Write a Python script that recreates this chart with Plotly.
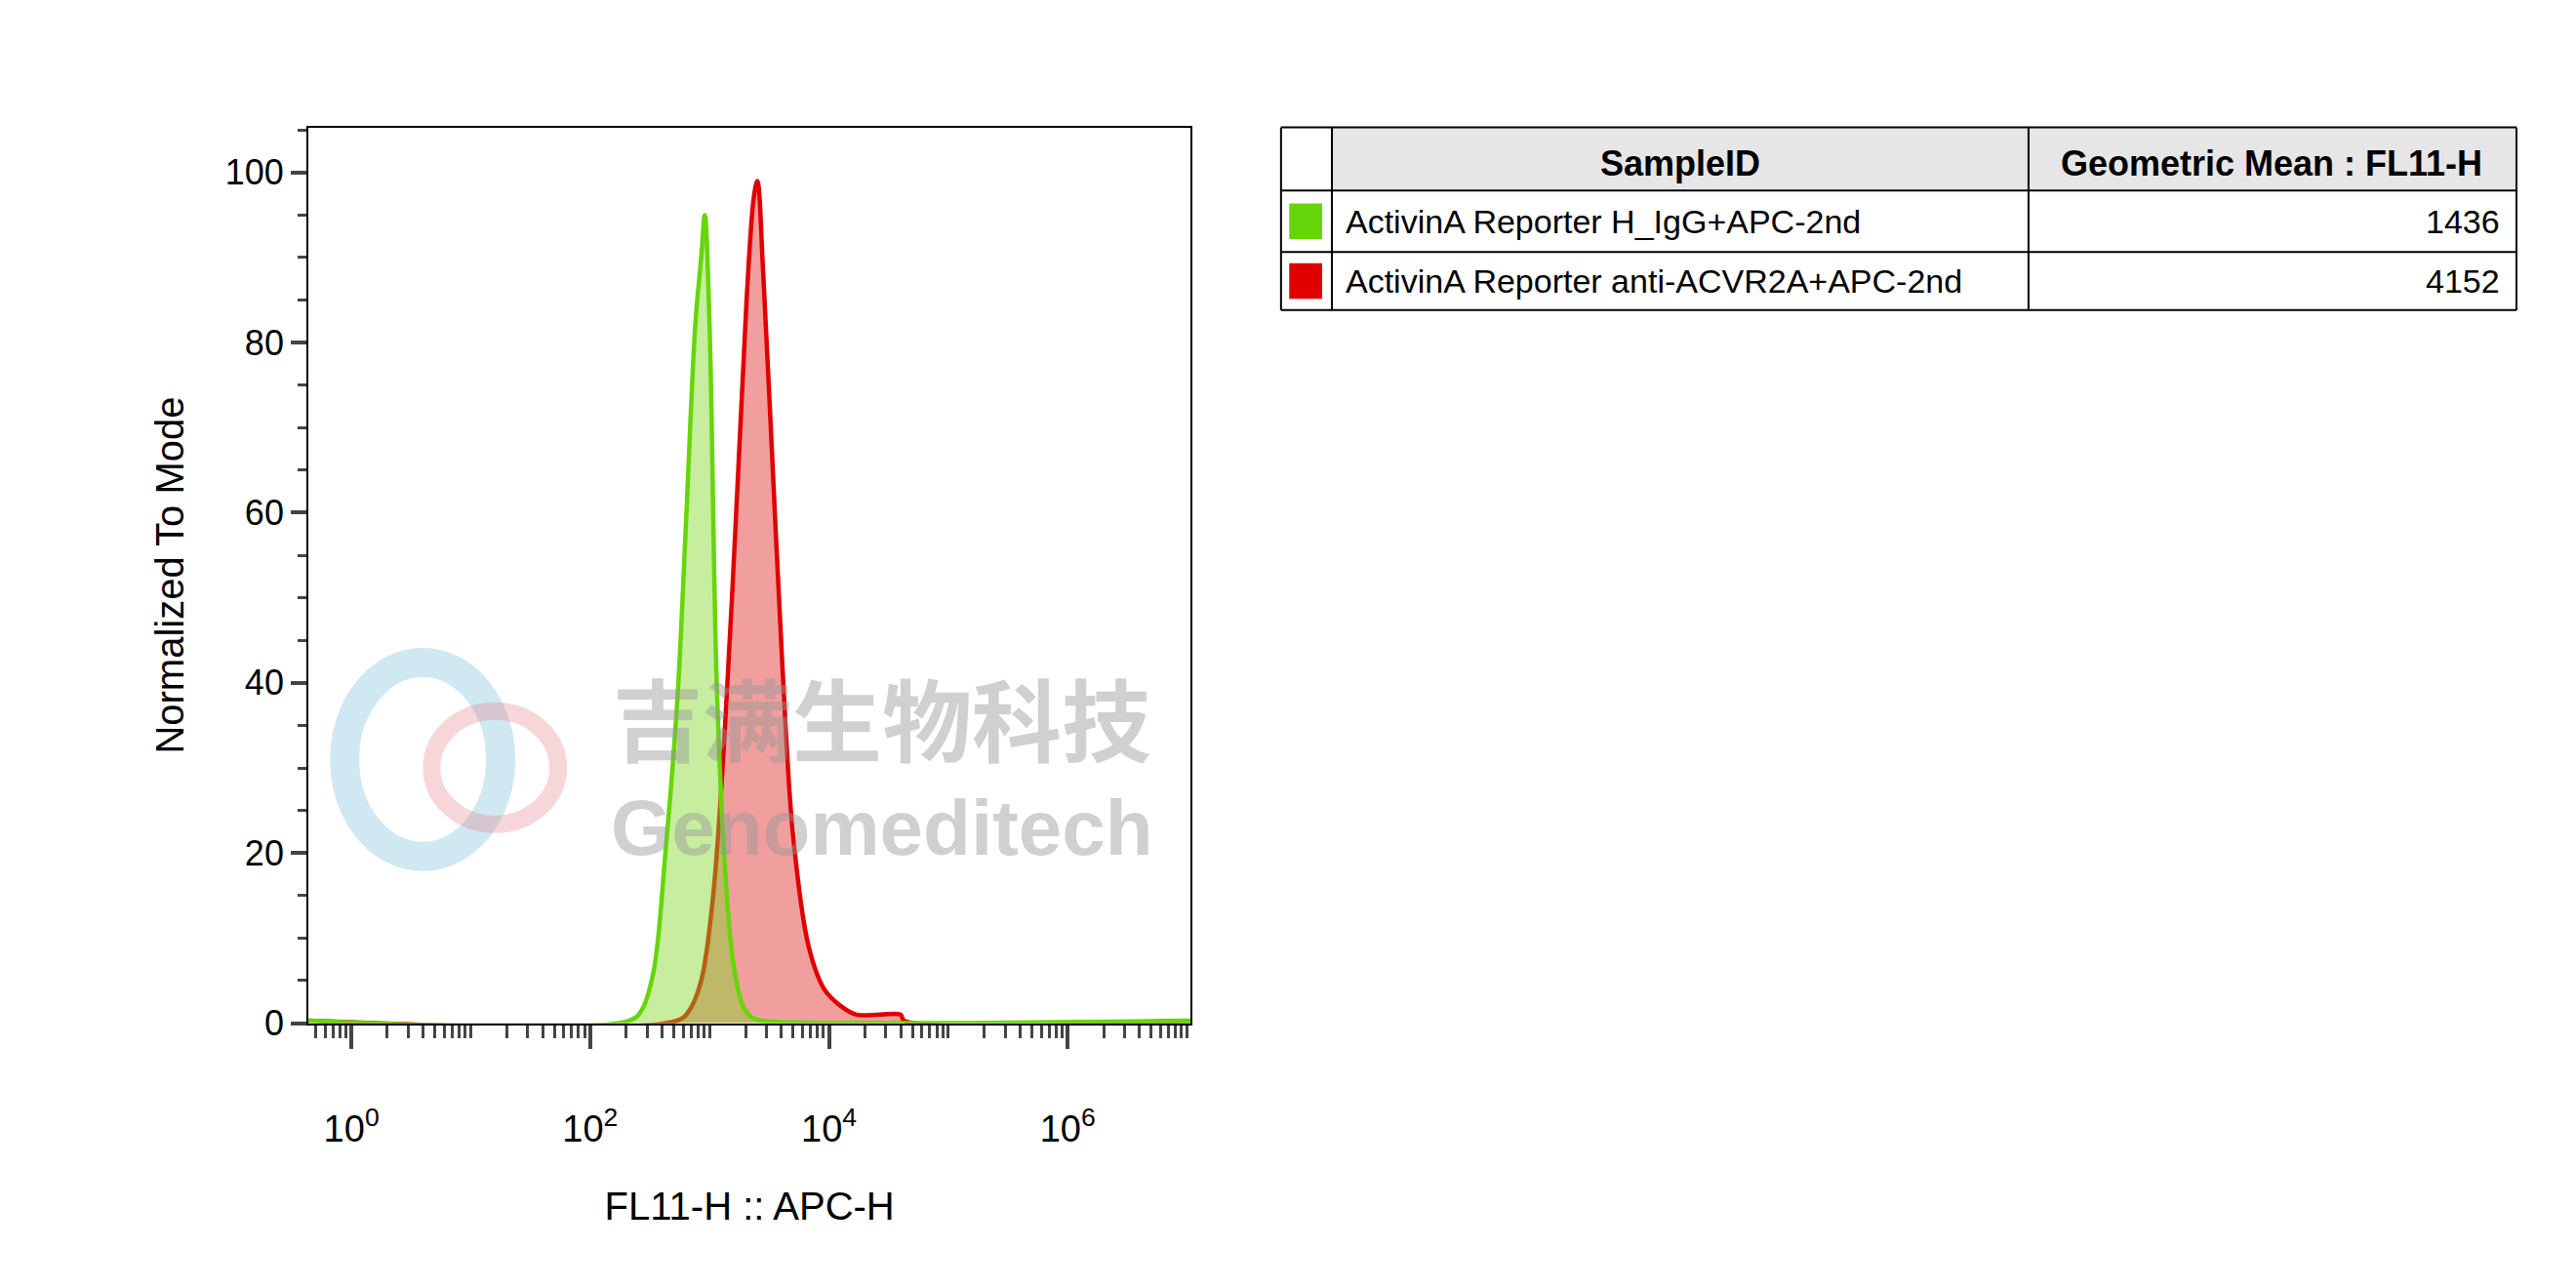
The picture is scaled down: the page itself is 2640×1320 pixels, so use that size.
import plotly.graph_objects as go

W, H = 2640, 1320

green_logx = [-0.4, 2.33, 2.43, 2.53, 2.63, 2.73, 2.8, 2.88, 2.93, 2.96, 3.0, 3.06, 3.13, 3.2, 3.28, 3.36, 3.43, 7.1]
green_y = [0.3, 0.3, 1.5, 6, 20, 38, 58, 82, 90, 95, 82, 40, 18, 7, 2, 0.6, 0.3, 0.3]
red_logx = [-0.4, 2.73, 2.83, 2.93, 3.03, 3.13, 3.23, 3.31, 3.37, 3.4, 3.45, 3.53, 3.61, 3.7, 3.83, 3.96, 4.1, 4.23, 4.43, 4.6, 4.63, 7.1]
red_y = [0.3, 0.3, 1.5, 5, 15, 35, 62, 85, 97, 99, 88, 65, 42, 22, 9, 4, 2, 1, 1, 1, 0.3, 0.3]
samples = ["ActivinA Reporter H_IgG+APC-2nd", "ActivinA Reporter anti-ACVR2A+APC-2nd"]
gmeans = ["1436", "4152"]
colors = ["#66d60a", "#e00000"]
fills = ["rgba(130,215,40,0.45)", "rgba(225,40,40,0.45)"]
xtick_exp = [0, 2, 4, 6]
yticks = [0, 20, 40, 60, 80, 100]

fig = go.Figure()
for lx, y, c, f in [(red_logx, red_y, colors[1], fills[1]), (green_logx, green_y, colors[0], fills[0])]:
    fig.add_trace(go.Scatter(x=[10 ** v for v in lx], y=y, mode="lines", line=dict(color=c, width=4.5, shape="spline"),
                             fill="tozeroy", fillcolor=f, showlegend=False))

def px(x): return x / 1568
def py(y): return 1 - y / 784

fig.update_layout(
    width=W, height=H, margin=dict(l=0, r=0, t=0, b=0), plot_bgcolor="white", paper_bgcolor="white",
    font=dict(family="Liberation Sans, Arial", color="black"),
    xaxis=dict(type="log", range=[-0.36, 7.03], domain=[px(183), px(720)], showgrid=False, zeroline=False,
               tickvals=[10 ** e for e in xtick_exp], ticktext=[f"10<sup>{e}</sup>" for e in xtick_exp],
               ticks="outside", ticklen=24, tickwidth=4, tickfont=dict(size=38), ticklabelstandoff=50,
               minor=dict(ticks="outside", ticklen=13, tickwidth=3, dtick="D1"),
               showline=True, linecolor="black", linewidth=2, mirror=True,
               title=dict(text="FL11-H :: APC-H", font=dict(size=40), standoff=45)),
    yaxis=dict(range=[0, 105.3], domain=[py(628), py(74)], showgrid=False, zeroline=False,
               tickvals=yticks, ticks="outside", ticklen=16, tickwidth=4, tickfont=dict(size=36),
               minor=dict(ticks="outside", ticklen=9, tickwidth=3, dtick=5),
               showline=True, linecolor="black", linewidth=2, mirror=True,
               title=dict(text="Normalized To Mode", font=dict(size=40), standoff=30)),
)

def ann(x, y, text, size, xanchor="center", **kw):
    fig.add_annotation(x=px(x), y=py(y), xref="paper", yref="paper", text=text, showarrow=False,
                       xanchor=xanchor, yanchor="middle", font=dict(size=size, **kw))

# watermark
ann(532, 438, "<b>吉满生物科技</b>", 92, color="rgba(150,150,150,0.45)", family="Noto Sans CJK SC")
ann(532, 507, "<b>Genomeditech</b>", 80, color="rgba(150,150,150,0.45)", family="Liberation Sans")
fig.add_shape(type="circle", xref="paper", yref="paper", x0=px(205), x1=px(300), y0=py(525), y1=py(405),
              line=dict(color="rgba(120,190,215,0.35)", width=30))
fig.add_shape(type="circle", xref="paper", yref="paper", x0=px(258), x1=px(335), y0=py(505), y1=py(435),
              line=dict(color="rgba(230,120,130,0.3)", width=18))

# table
cols = [775, 806, 1230, 1527]
rows = [74, 113, 151, 187]
fig.add_shape(type="rect", xref="paper", yref="paper", x0=px(806), x1=px(1527), y0=py(113), y1=py(74),
              fillcolor="#e6e6e6", line=dict(width=0), layer="below")
for r in rows:
    fig.add_shape(type="line", xref="paper", yref="paper", x0=px(775), x1=px(1527), y0=py(r), y1=py(r),
                  line=dict(color="black", width=2))
for c in cols:
    fig.add_shape(type="line", xref="paper", yref="paper", x0=px(c), x1=px(c), y0=py(74), y1=py(187),
                  line=dict(color="black", width=2))
ann(1018, 96, "<b>SampleID</b>", 36)
ann(1378, 96, "<b>Geometric Mean : FL11-H</b>", 36)
for i in range(2):
    yc = (rows[i + 1] + rows[i + 2]) / 2
    fig.add_shape(type="rect", xref="paper", yref="paper", x0=px(780), x1=px(800), y0=py(yc + 11), y1=py(yc - 11),
                  fillcolor=colors[i], line=dict(width=0))
    ann(813, yc, samples[i], 34, xanchor="left")
    ann(1518, yc, gmeans[i], 34, xanchor="right")

fig.write_html("out.html")
